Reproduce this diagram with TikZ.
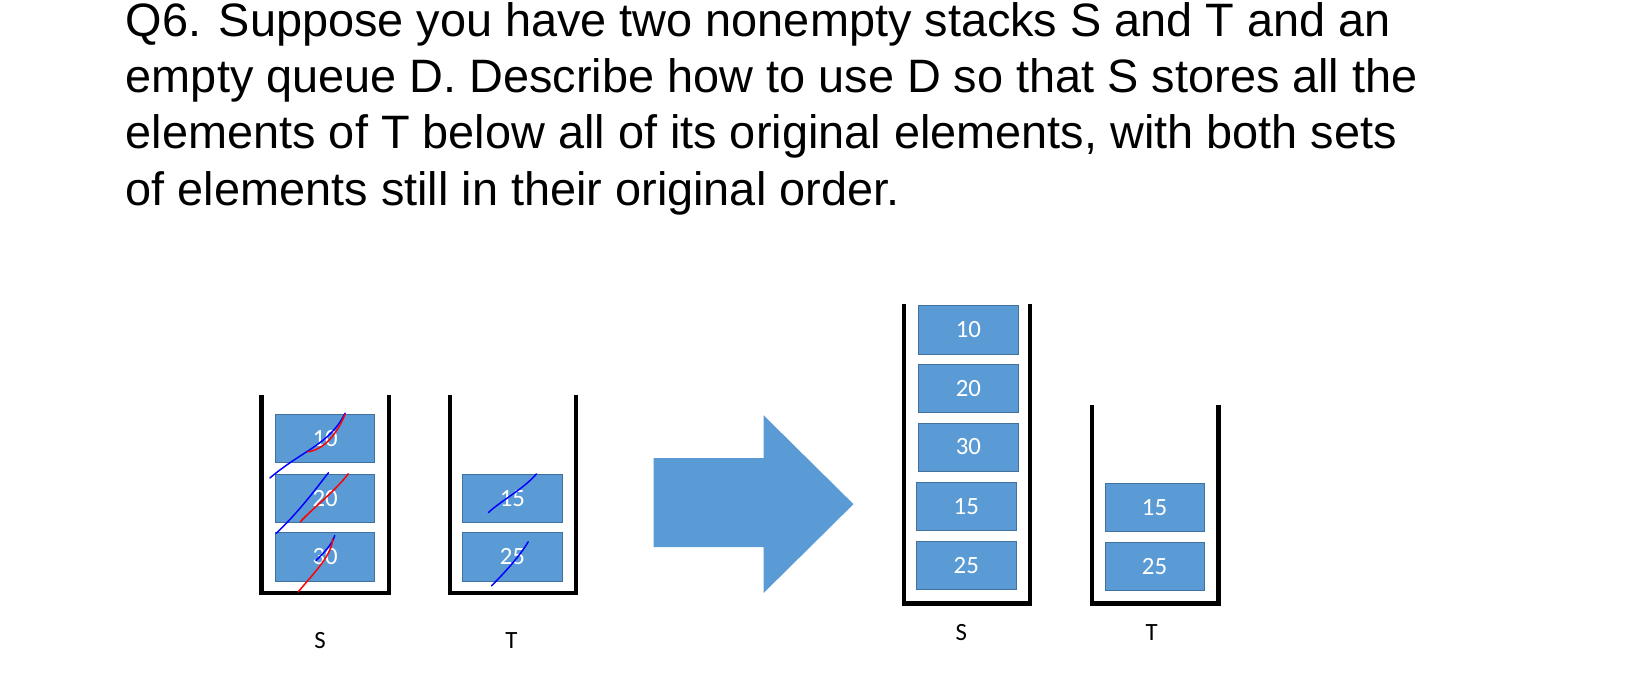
\documentclass[tikz,border=0pt]{standalone}
\usepackage{fontspec}
\setmainfont{Liberation Sans}
\newfontfamily\boxfont{Carlito}
\definecolor{boxblue}{RGB}{91,155,213}
\definecolor{boxedge}{RGB}{65,113,156}
\begin{document}
\begin{tikzpicture}[x=0.02cm,y=-0.02cm,
  item/.style={draw=boxedge,fill=boxblue,text=white,font=\boxfont\fontsize{13.5}{13.5}\selectfont,minimum width=95*0.02cm,minimum height=46*0.02cm,inner sep=0pt,anchor=north west,line width=0.4pt},
  wall/.style={line width=2.2pt,black},
  lbl/.style={font=\boxfont\fontsize{13.5}{13.5}\selectfont},
  bl/.style={blue,line width=0.8pt,line cap=round},
  rd/.style={red,line width=0.8pt,line cap=round}]
\useasboundingbox (0,0) rectangle (1568,654);
\node[anchor=north west,align=left,font=\fontsize{25.5}{30.6}\selectfont,inner sep=0pt] (q) at (120,2)
{Q6. Suppose you have two nonempty stacks S and T and an\\
empty queue D. Describe how to use D so that S stores all the\\
elements of T below all of its original elements, with both sets\\
of elements still in their original order.};
% left S
\draw[wall] (250,378) -- (250,567) -- (372,567) -- (372,378);
\node[item] (s10) at (263,396) {10};
\node[item] (s20) at (263,453) {20};
\node[item] (s30) at (263,509) {30};
\node[lbl] (sl) at (306,612) {S};
% left T
\draw[wall] (430,378) -- (430,567) -- (551,567) -- (551,378);
\node[item] (t15) at (442,453) {15};
\node[item] (t25) at (442,509) {25};
\node[lbl] (tl) at (489,612) {T};
% strokes
\draw[bl] (258,457) .. controls (290,430) and (315,425) .. (330,395);
\draw[rd] (294,432) .. controls (310,430) and (322,415) .. (330,396);
\draw[bl] (264,510) .. controls (285,490) and (300,470) .. (314,452);
\draw[rd] (333,453) .. controls (320,470) and (300,485) .. (287,499);
\draw[bl] (302,536) .. controls (310,528) and (318,520) .. (320,512);
\draw[rd] (285,566) .. controls (300,548) and (318,530) .. (318,515);
\draw[bl] (467,490) .. controls (480,478) and (500,468) .. (513,453);
\draw[bl] (470,560) .. controls (485,545) and (498,530) .. (505,518);
% arrow
\fill[boxblue] (625,438) -- (730,438) -- (730,397) -- (816,482) -- (730,567) -- (730,523) -- (625,523) -- cycle;
% right S
\draw[wall] (864,291) -- (864,577) -- (985,577) -- (985,291);
\node[item] (r10) at (878,292) {10};
\node[item] (r20) at (878,348) {20};
\node[item] (r30) at (878,404) {30};
\node[item] (r15) at (876,461) {15};
\node[item] (r25) at (876,517) {25};
\node[lbl] (sr) at (919,605) {S};
% right T
\draw[wall] (1044,387) -- (1044,577) -- (1165,577) -- (1165,387);
\node[item] (u15) at (1056,462) {15};
\node[item] (u25) at (1056,518) {25};
\node[lbl] (tr) at (1101,605) {T};
\end{tikzpicture}
\end{document}
